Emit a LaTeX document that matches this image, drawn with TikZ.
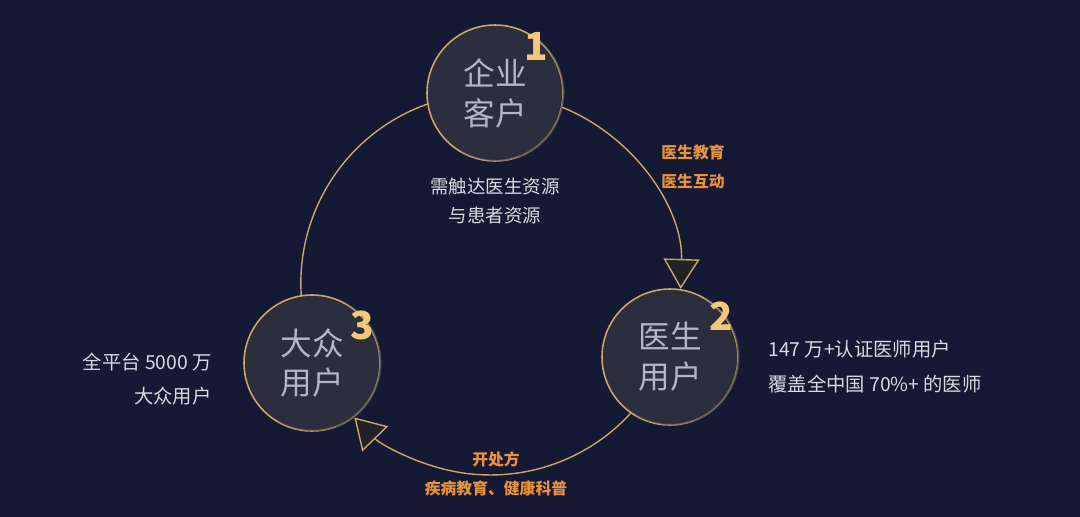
\documentclass[tikz,border=0pt]{standalone}
\usepackage{fontspec}
\setmainfont{Noto Sans CJK SC}
\usepackage{xcolor}
\usepackage{tikz}
\usetikzlibrary{arrows.meta, positioning}

\definecolor{bgnavy}{HTML}{151934}
\definecolor{nodefill}{HTML}{2C2D3D}
\definecolor{goldline}{HTML}{C9A66B}
\definecolor{dimedge}{HTML}{4A4A52}
\definecolor{tipfill}{HTML}{222226}
\definecolor{numgold}{HTML}{F3C87A}
\definecolor{labelorange}{HTML}{E8923C}
\definecolor{infogray}{HTML}{D9D9E0}
\definecolor{roletext}{HTML}{B4B6C6}

\begin{document}
\begin{tikzpicture}[
      x=0.02cm, y=-0.02cm,
      role/.style={circle, draw=goldline, fill=nodefill, line width=0.9pt, minimum size=2.72cm, inner sep=0pt,
        align=center, text=roletext, font=\fontsize{18}{22.7}\selectfont},
      num/.style={text=numgold, inner sep=0pt, font=\fontsize{22}{22}\selectfont\bfseries},
      info/.style={text=infogray, inner sep=0pt, font=\fontsize{11}{16.5}\selectfont},
      tag/.style={text=labelorange, inner sep=0pt, align=center, font=\fontsize{9}{16.5}\selectfont\bfseries},
      ring/.style={draw=goldline, line width=0.8pt},
      tip/.style={-{Triangle[length=0.6cm, width=0.72cm, fill=tipfill]}},
      shadeedge/.style={draw=dimedge, line width=1pt, draw opacity=0.35}
    ]

    % ---- background and frame ----
    \fill[bgnavy] (0,0) rectangle (1080,517);
    \useasboundingbox (0,0) rectangle (1080,517);

    % ---- three roles on the ring ----
    \node[role] (client) at (495,93)  {企业\\客户};
    \node[role] (doctor) at (670,357) {医生\\用户};
    \node[role] (public) at (312,363) {大众\\用户};

    % darker rim on the lower right of each circle
    \foreach \r in {client,doctor,public}
      \foreach \s/\e in {60/-120, 35/-95, 10/-70}
        \draw[shadeedge] (\r.\s) arc[start angle=\s, end angle=\e, radius=1.36cm];

    \node[num] (n1) at (536,46)  {1};
    \node[num] (n2) at (721,316) {2};
    \node[num] (n3) at (362,325) {3};

    % ---- ring connectors (ring radius 3.8cm) ----
    \draw[ring, tip] (client.-12.7) arc[start angle=67.9, end angle=-1.7, radius=3.8cm];
    \draw[ring, tip] (doctor.-125.8) arc[start angle=-42.5, end angle=-135.8, radius=3.8cm];
    \draw[ring] (public.99.8) arc[start angle=183.6, end angle=109.1, radius=3.8cm];

    % ---- flow labels ----
    \node[tag] (teach)  at (693,167) {医生教育\\医生互动};
    \node[tag] (advice) at (496,474) {开处方\\疾病教育、健康科普};

    % ---- descriptions ----
    \node[info, align=center, font=\fontsize{10.5}{16.5}\selectfont] (needs) at (495,201) {需触达医生资源\\与患者资源};
    \node[info, align=left, anchor=west, font=\fontsize{11}{20}\selectfont] (docinfo) at (768,367)
      {147 万+认证医师用户\\覆盖全中国 70\%+ 的医师};
    \node[info, align=right, anchor=east, font=\fontsize{11}{19.4}\selectfont] (pubinfo) at (212,379)
      {全平台 5000 万\\大众用户};

    \end{tikzpicture}
\end{document}
